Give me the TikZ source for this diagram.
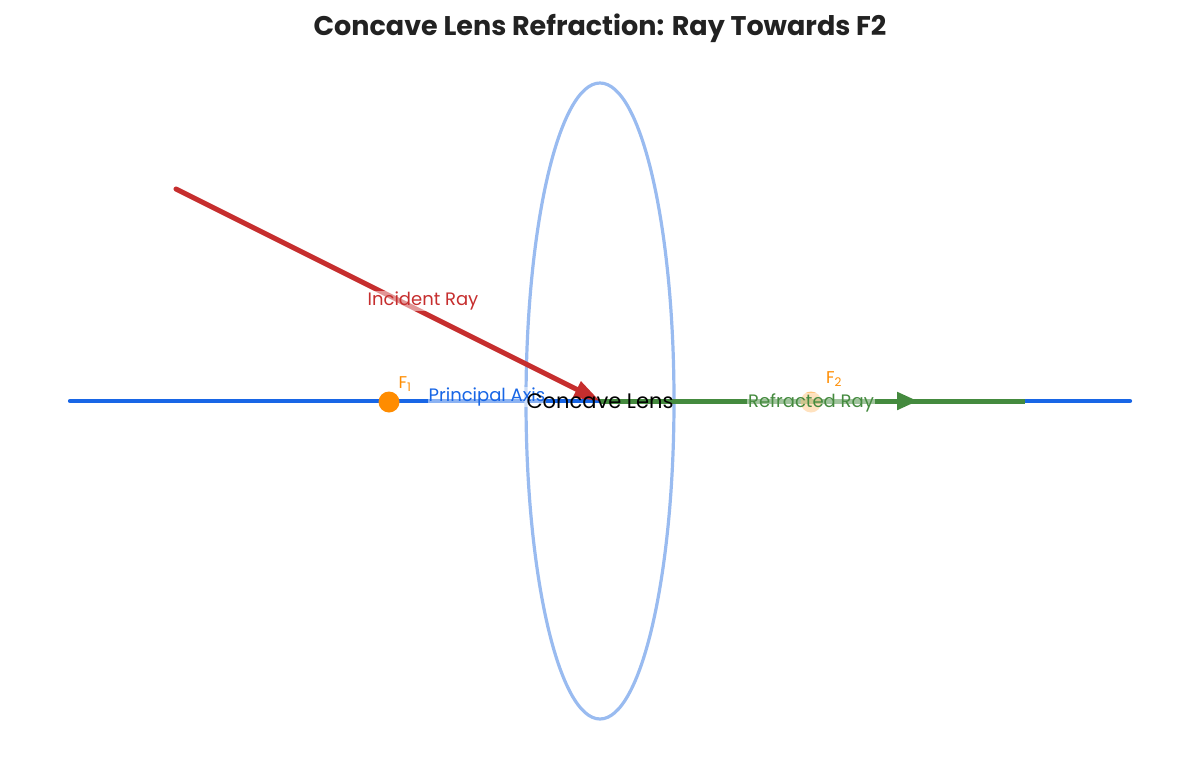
\documentclass[tikz,border=0pt]{standalone}
\usepackage{fontspec}
\setmainfont{Poppins}
\usetikzlibrary{arrows.meta}
\definecolor{axisblue}{HTML}{1866E6}
\definecolor{lensblue}{HTML}{99BBF0}
\definecolor{rayred}{HTML}{C62E2E}
\definecolor{raygreen}{HTML}{448A3E}
\definecolor{focorange}{HTML}{FF8C00}
\definecolor{titlegray}{HTML}{222222}
\tikzset{
  lbl/.style={font=\fontsize{18}{21}\selectfont, inner sep=1pt, fill=white, fill opacity=0.5, text opacity=1},
  ray/.style={line width=5pt},
}
\begin{document}
\begin{tikzpicture}[x=1pt,y=-1pt]
\useasboundingbox (0,0) rectangle (1200,763);
\coordinate (axL) at (70,401);
\coordinate (axR) at (1130,401);
\coordinate (O) at (600,401);
\coordinate (S) at (176,189);
\coordinate (E) at (1025,401);
\coordinate (A) at (918,401);
\node[font=\fontsize{27}{32}\selectfont\bfseries, text=titlegray] (title) at (600,28) {Concave Lens Refraction: Ray Towards F2};
\draw[axisblue, line width=4.2pt, line cap=round] (axL) -- (axR);
\draw[lensblue, line width=3.2pt] (O) ellipse [x radius=74, y radius=318];
\draw[rayred, ray, line cap=round, -{Triangle[length=26pt,width=17pt]}] (S) -- (O);
\draw[raygreen, ray] (O) -- (E);
\draw[raygreen, ray, -{Triangle[length=21pt,width=17pt]}] (O) -- (A);
\node[circle, fill=focorange, minimum size=21pt, inner sep=0pt] (F1) at (389,402) {};
\node[circle, fill=focorange, fill opacity=0.5, minimum size=21pt, inner sep=0pt] (F2) at (811,402) {};
\node[text=focorange, font=\fontsize{17}{20}\selectfont] (F1l) at (405,384) {F\textsubscript{1}};
\node[text=focorange, font=\fontsize{17}{20}\selectfont] (F2l) at (834,379) {F\textsubscript{2}};
\node[lbl, text=axisblue] (pa) at (487,397) {Principal Axis};
\node[lbl, text=rayred] (ir) at (423,301) {Incident Ray};
\node[lbl, text=raygreen] (rr) at (811,403) {Refracted Ray};
\node[font=\fontsize{21}{24}\selectfont, text=black, inner sep=1pt] (cl) at (600,401) {Concave Lens};
\end{tikzpicture}
\end{document}
